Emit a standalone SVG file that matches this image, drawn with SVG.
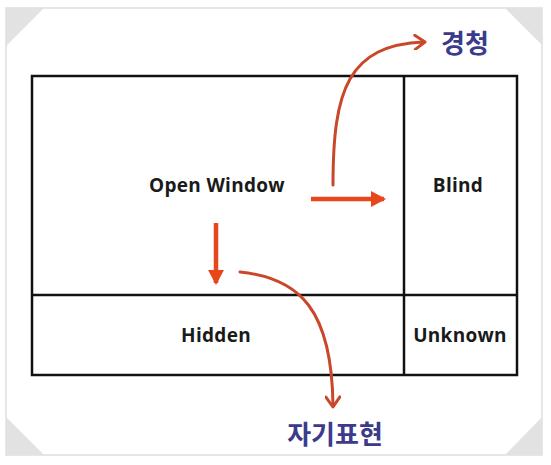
<svg xmlns="http://www.w3.org/2000/svg" width="551" height="465" viewBox="0 0 551 465">
<defs>
<style>
.frame{fill:#ffffff;stroke:#e6e6e6;stroke-width:2}
.corner{fill:#e2e2e2}
.box{fill:none;stroke:#111;stroke-width:2.5}
.lbl{font-family:"Open Sans","Noto Sans","DejaVu Sans",sans-serif;font-weight:bold;font-size:19px;letter-spacing:0.3px;fill:#1a1a1a;text-anchor:middle}
.ko{font-family:"Noto Sans CJK KR",sans-serif;font-weight:bold;font-size:26px;fill:#3b3b8c;text-anchor:middle}
.straight{stroke:#e8461b;stroke-width:4.5;fill:none}
.curve{stroke:#c9482a;stroke-width:3;fill:none;stroke-linecap:round}
</style>
<marker id="headS" markerWidth="15" markerHeight="16" refX="13" refY="8" orient="auto" markerUnits="userSpaceOnUse" viewBox="0 0 15 16">
<path d="M0,0 L15,8 L0,16 Z" fill="#e8461b"/>
</marker>
<marker id="headC" markerWidth="16" markerHeight="16" refX="12" refY="8" orient="auto" markerUnits="userSpaceOnUse" viewBox="0 0 16 16">
<path d="M3,1 L13,8 L3,15" fill="none" stroke="#c9482a" stroke-width="3" stroke-linecap="round" stroke-linejoin="round"/>
</marker>
</defs>
<rect width="551" height="465" fill="#ffffff"/>
<g id="frame">
<rect class="frame" x="6" y="8" width="536" height="447"/>
<polygon class="corner" points="6,8 44,8 6,46"/>
<polygon class="corner" points="505,8 542,8 542,45"/>
<polygon class="corner" points="6,417 6,455 44,455"/>
<polygon class="corner" points="542,417 542,455 505,455"/>
</g>
<g id="grid">
<rect class="box" x="32" y="76" width="485" height="299"/>
<line class="box" x1="32" y1="295" x2="517" y2="295"/>
<line class="box" x1="404" y1="76" x2="404" y2="375"/>
</g>
<g id="open-window"><text class="lbl" x="217" y="192">Open Window</text></g>
<g id="blind"><text class="lbl" x="458" y="192">Blind</text></g>
<g id="hidden"><text class="lbl" x="216" y="342">Hidden</text></g>
<g id="unknown"><text class="lbl" x="460" y="342">Unknown</text></g>
<g id="listening"><text class="ko" x="465" y="53">경청</text></g>
<g id="self-expression"><text class="ko" x="335" y="444">자기표현</text></g>
<g id="connectors">
<path class="straight" d="M311,199 L384,199" marker-end="url(#headS)"/>
<path class="straight" d="M216,223 L216,283" marker-end="url(#headS)"/>
<path class="curve" d="M333,185 C333,90 348,45 424,42" marker-end="url(#headC)"/>
<path class="curve" d="M240,272 C300,278 332,310 333,406" marker-end="url(#headC)"/>
</g>
</svg>
